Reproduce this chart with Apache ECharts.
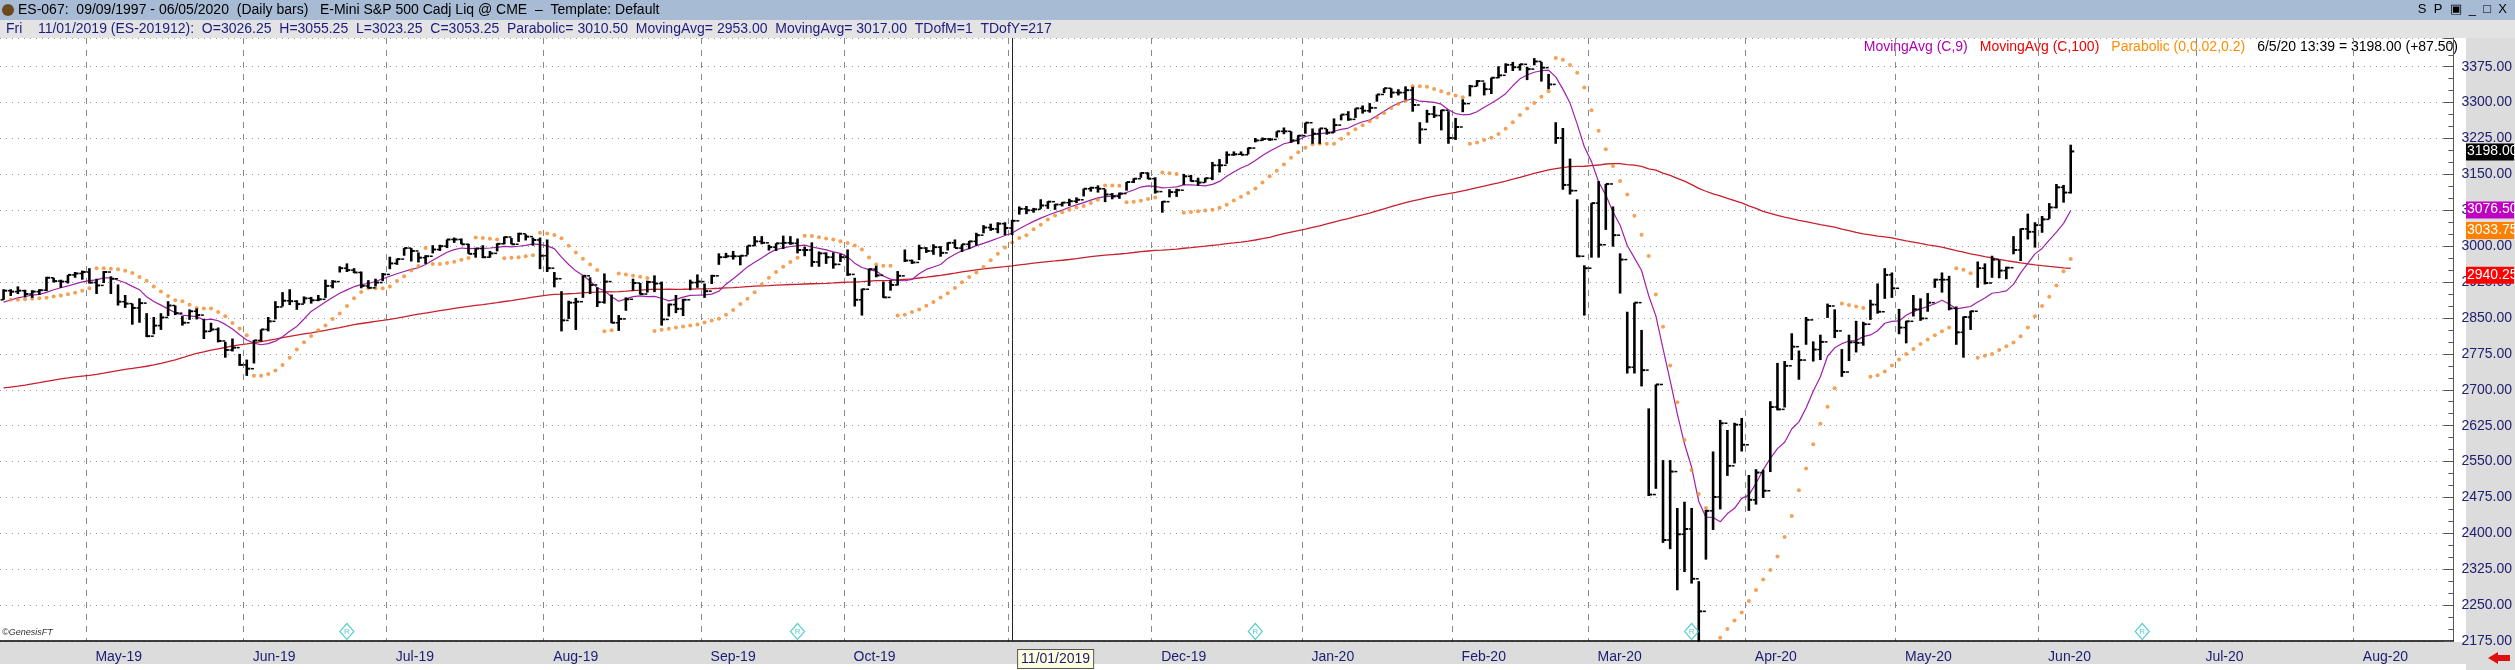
<!DOCTYPE html>
<html><head><meta charset="utf-8">
<script src="https://cdn.jsdelivr.net/npm/echarts@6/dist/echarts.min.js"></script>
<style>html,body{margin:0;padding:0;background:#fff}#c{width:2515px;height:670px}</style>
</head><body><div id="c"></div>
<script>
// warm-up closes (Nov 15 2018 - Apr 11 2019) used only for the 100-day average
const warmupCloses=[2730,2736,2690,2641,2649,2633,2674,2682,2744,2738,2760,
2790,2700,2696,2633,2638,2636,2651,2650,2599,2546,2546,2507,2467,2417,2351,2468,2489,2486,2507,
2510,2448,2532,2550,2574,2585,2597,2596,2583,2610,2616,2636,2671,2633,2639,2643,2665,2644,2640,2682,2704,
2707,2725,2738,2732,2707,2708,2709,2745,2754,2746,2776,2780,2784,2775,2793,2796,2794,2793,2784,
2804,2792,2789,2772,2749,2743,2784,2792,2811,2809,2822,2833,2833,2824,2855,2801,2798,2818,2806,2815,2834,
2867,2867,2873,2880,2893,2896,2878,2888];
const closes=[2907,2905,2907,2900,2905,2908,2934,2927,2926,2940,2943,2946,
2924,2918,2946,2932,2884,2880,2871,2881,2812,2834,2851,2876,2860,2840,2864,2856,2822,2826,2802,2783,2788,2752,
2744,2803,2826,2843,2873,2886,2885,2879,2891,2887,2889,2917,2926,2954,2950,2945,2917,2913,2924,2941,
2964,2973,2996,2990,2976,2979,2993,3000,3014,3014,3004,2984,2995,2977,2985,3005,3019,3004,3026,3020,3013,2980,
2954,2932,2845,2882,2884,2938,2919,2883,2926,2840,2848,2889,2923,2900,2925,2922,2847,2878,2869,2888,2924,2926,
2906,2938,2977,2979,2979,2980,3001,3010,3007,2998,3006,3007,3006,2992,2992,2967,2985,2977,2962,2977,
2941,2888,2910,2952,2939,2893,2919,2938,2970,2966,2996,2990,2998,2986,3007,2996,3004,3010,3023,3039,3036,3047,3038,
3053,3078,3075,3077,3085,3093,3087,3091,3094,3097,3120,3122,3120,3108,3104,3110,3134,3141,3153,3141,
3114,3093,3113,3117,3146,3136,3133,3142,3169,3169,3191,3192,3191,3205,3221,3224,3223,3240,3240,3221,3231,
3258,3235,3246,3237,3253,3275,3265,3288,3283,3289,3317,3330,3321,3321,3326,3295,3244,3276,3273,3284,3226,
3249,3298,3334,3345,3328,3352,3357,3379,3374,3380,3370,3386,3373,3338,3226,3128,3116,2979,2954,
3090,3003,3130,3023,2972,2747,2882,2741,2481,2711,2386,2529,2398,2409,2305,2237,2447,2476,2630,2541,2627,2585,
2470,2527,2489,2664,2659,2750,2790,2762,2846,2784,2800,2875,2823,2737,2799,2798,2837,2878,2863,2940,2912,
2830,2843,2868,2849,2882,2930,2930,2870,2820,2852,2864,2954,2923,2972,2949,2955,2992,3036,3030,3044,
3056,3081,3123,3112,3198];
const highs=[2910,2910,2916,2909,2908,2910,2936,2934,2930,2940,2946,2949,
2954,2932,2948,2937,2920,2898,2880,2891,2860,2852,2860,2885,2876,2854,2868,2870,2848,2840,2830,2800,2807,2775,
2763,2804,2826,2852,2885,2904,2910,2887,2895,2894,2898,2930,2929,2958,2964,2954,2947,2929,2932,2944,
2978,2974,2996,2996,2987,2981,3002,3003,3014,3018,3016,3005,2996,3002,2990,3006,3020,3017,3028,3025,3018,3018,
3014,2946,2906,2886,2892,2939,2935,2914,2943,2899,2856,2893,2932,2923,2928,2939,2926,2880,2898,2890,2930,2941,
2922,2940,2985,2986,2990,2980,3001,3021,3021,3003,3006,3022,3021,3016,2999,3008,2989,2987,2987,2984,
2993,2934,2911,2953,2959,2926,2929,2948,2993,2972,3003,2998,3004,3000,3008,3014,3004,3011,3028,3044,3047,3050,3050,
3055,3083,3084,3080,3098,3094,3088,3092,3099,3102,3120,3124,3127,3119,3111,3112,3134,3142,3154,3154,
3144,3094,3119,3120,3151,3149,3143,3143,3176,3182,3198,3198,3198,3206,3226,3227,3226,3240,3248,3240,3232,
3258,3246,3246,3245,3267,3275,3282,3288,3294,3299,3317,3330,3330,3328,3334,3333,3259,3285,3293,3285,3282,
3268,3307,3337,3347,3342,3352,3376,3382,3385,3381,3375,3393,3385,3360,3259,3247,3183,3098,2960,
3090,3136,3130,3083,2985,2863,2882,2825,2661,2711,2553,2553,2453,2466,2453,2300,2449,2571,2637,2616,2631,2641,
2522,2534,2533,2676,2756,2760,2818,2782,2852,2801,2815,2880,2868,2785,2815,2844,2842,2888,2922,2954,2945,
2869,2844,2898,2891,2902,2932,2945,2938,2874,2853,2865,2968,2964,2980,2971,2957,3021,3037,3068,3050,
3063,3090,3130,3128,3212];
const lows=[2888,2896,2900,2893,2892,2898,2906,2924,2913,2922,2934,2930,
2922,2900,2923,2900,2876,2871,2836,2840,2810,2816,2825,2854,2856,2834,2846,2847,2806,2822,2799,2767,2780,2750,
2729,2755,2801,2822,2847,2874,2877,2867,2880,2880,2885,2892,2912,2945,2946,2944,2912,2912,2916,2927,
2952,2961,2980,2968,2966,2963,2985,2990,2996,3007,3004,2984,2976,2975,2976,2989,3004,3004,3009,3012,3001,2952,
2946,2914,2822,2848,2825,2892,2900,2873,2880,2839,2823,2865,2907,2899,2903,2904,2834,2853,2860,2854,2908,2913,
2892,2921,2961,2975,2972,2960,2982,3000,3004,2991,2990,2994,3003,2985,2979,2957,2957,2963,2953,2967,
2938,2874,2855,2917,2935,2892,2907,2918,2967,2963,2971,2986,2982,2978,2991,2996,2988,2994,3001,3027,3032,3027,3023,
3023,3066,3067,3070,3078,3078,3076,3083,3084,3090,3104,3114,3112,3092,3098,3099,3116,3132,3143,3140,
3110,3070,3102,3103,3128,3135,3126,3133,3138,3154,3172,3189,3191,3192,3217,3220,3220,3227,3234,3216,3213,
3235,3214,3214,3233,3237,3263,3262,3268,3277,3279,3302,3320,3310,3315,3306,3281,3214,3258,3268,3242,3214,
3222,3280,3313,3334,3315,3318,3351,3362,3366,3367,3347,3378,3344,3328,3214,3118,3108,2977,2855,
2976,2976,3034,2999,2901,2734,2734,2707,2478,2493,2380,2367,2281,2319,2295,2174,2345,2407,2450,2520,2546,2571,
2447,2460,2474,2528,2657,2663,2762,2721,2794,2759,2762,2850,2808,2727,2760,2778,2792,2846,2859,2890,2892,
2816,2797,2853,2844,2863,2913,2903,2866,2794,2767,2825,2913,2920,2934,2933,2931,2983,2969,3014,2997,
3028,3057,3079,3091,3110];
const holidays=['2019-04-19','2019-05-27','2019-07-04','2019-09-02','2019-11-28','2019-12-25','2020-01-01','2020-01-20','2020-02-17','2020-04-10','2020-05-25','2020-07-03'];
const expiryDates=['2019-06-21','2019-09-20','2019-12-20','2020-03-20','2020-06-19'];
const yTicks={min:2175,max:3435,step:75};
const tagValues=[['3198.00','#000000',3198],['3076.50','#c000c0',3076.5],['3033.75','#ff8000',3033.75],['2940.25','#ff0000',2940.25]];
const legendItems=[['MovingAvg (C,9)','#b000b0'],['MovingAvg (C,100)','#ee0000'],['Parabolic (0,0.02,0.2)','#ff8c00'],['6/5/20 13:39 = 3198.00 (+87.50)','#000000']];
const cursorDate='2019-11-01';

const dates=[];
{let d=new Date(Date.UTC(2019,3,12));const end=new Date(Date.UTC(2020,7,20));
 while(d<=end){const w=d.getUTCDay();const s=d.toISOString().slice(0,10);
  if(w>0&&w<6&&!holidays.includes(s))dates.push(s);d=new Date(d.getTime()+864e5);}}
const N=closes.length;
const allC=warmupCloses.concat(closes);
const W=warmupCloses.length;
const opens=closes.map((c,i)=>i===0?warmupCloses[W-1]:closes[i-1]);
function sma(p){return closes.map((c,i)=>{const j=i+W;if(j+1<p)return null;let s=0;for(let k=j-p+1;k<=j;k++)s+=allC[k];return +(s/p).toFixed(2);});}
const ma9=sma(9),ma100=sma(100);
const sar=[];{let up=true,af=0.02,ep=highs[0],s=lows[0];sar.push(null);
 for(let i=1;i<N;i++){s=s+af*(ep-s);
  if(up){s=Math.min(s,lows[i-1],i>1?lows[i-2]:lows[i-1]);
   if(lows[i]<s){up=false;s=ep;ep=lows[i];af=0.02;}else if(highs[i]>ep){ep=highs[i];af=Math.min(af+0.02,0.2);}}
  else{s=Math.max(s,highs[i-1],i>1?highs[i-2]:highs[i-1]);
   if(highs[i]>s){up=true;s=ep;ep=highs[i];af=0.02;}else if(lows[i]<ep){ep=lows[i];af=Math.min(af+0.02,0.2);}}
  sar.push(+s.toFixed(2));}}
const ohlc=closes.map((c,i)=>[i,opens[i],highs[i],lows[i],c]);
const mon=['Jan','Feb','Mar','Apr','May','Jun','Jul','Aug','Sep','Oct','Nov','Dec'];
const firstOfMonth=new Set();dates.forEach((d,i)=>{if(i>0&&d.slice(5,7)!==dates[i-1].slice(5,7))firstOfMonth.add(i);});
const FF="'Liberation Sans Narrow','Liberation Sans',Arial,sans-serif";
const chart=echarts.init(document.getElementById('c'));
chart.setOption({
 animation:false,backgroundColor:'#ffffff',
 grid:{left:0,right:50,top:38,bottom:29},
 xAxis:{type:'category',data:dates,boundaryGap:true,
  axisLine:{lineStyle:{color:'#000',width:1.5}},
  axisTick:{show:false},
  axisLabel:{interval:(i)=>firstOfMonth.has(i),margin:9,align:'left',padding:[0,0,0,6],color:'#1c1c70',fontSize:14,fontFamily:FF,
   formatter:(v)=>v===cursorDate?'{cur|11/01/2019}':mon[+v.slice(5,7)-1]+'-'+v.slice(2,4),
   rich:{cur:{backgroundColor:'#ffffe0',borderColor:'#555',borderWidth:1,padding:[2,3],color:'#1c1c70',fontSize:14,fontFamily:FF}}},
  splitLine:{show:true,interval:(i)=>firstOfMonth.has(i),lineStyle:{color:'#888',type:[6,6],width:1}}},
 yAxis:{type:'value',position:'right',min:yTicks.min,max:yTicks.max,interval:yTicks.step,
  axisLine:{show:true,lineStyle:{color:'#555'}},
  axisTick:{show:true,inside:true,length:10,lineStyle:{color:'#555'}},
  minorTick:{show:true,splitNumber:3,length:5,lineStyle:{color:'#555'}},
  axisLabel:{margin:8,color:'#202070',fontSize:14,fontFamily:'Liberation Sans,Arial',formatter:(v)=>v>3400?'':v.toFixed(2)},
  splitLine:{show:true,lineStyle:{color:'#999',type:[1,5]}}},
 series:[
  {type:'line',data:ma100,showSymbol:false,lineStyle:{color:'#c8202c',width:1.3},z:2},
  {type:'line',data:ma9,showSymbol:false,lineStyle:{color:'#a020a8',width:1.2},z:3},
  {type:'scatter',data:sar,symbol:'circle',symbolSize:4,itemStyle:{color:'#f08a2a'},z:4},
  {type:'custom',data:ohlc,z:5,encode:{x:0,y:[1,2,3,4]},
   renderItem:(p,api)=>{const x=api.value(0);const o=api.coord([x,api.value(1)]),h=api.coord([x,api.value(2)]),l=api.coord([x,api.value(3)]),c=api.coord([x,api.value(4)]);
    return {type:'group',children:[
     {type:'line',shape:{x1:h[0],y1:h[1],x2:l[0],y2:l[1]},style:{stroke:'#000',lineWidth:2.6}},
     {type:'line',shape:{x1:o[0]-3,y1:o[1],x2:h[0],y2:o[1]},style:{stroke:'#000',lineWidth:1.5}},
     {type:'line',shape:{x1:c[0],y1:c[1],x2:c[0]+3.5,y2:c[1]},style:{stroke:'#000',lineWidth:2}}]};}},
  {type:'scatter',data:expiryDates.map(d=>[d,2195]),symbol:'diamond',symbolSize:[14,16],
   itemStyle:{color:'rgba(0,0,0,0)',borderColor:'#30c0c0',borderWidth:1.2},
   label:{show:true,formatter:'R',position:'inside',color:'#30c0c0',fontSize:8},z:6,
   markLine:{silent:true,symbol:'none',label:{show:false},lineStyle:{color:'#222',width:1,type:'solid'},data:[{xAxis:cursorDate}]}}
 ],
 graphic:[
  {type:'rect',shape:{x:0,y:0,width:2515,height:20},style:{fill:'#a7bbd5'}},
  {type:'rect',shape:{x:0,y:20,width:2515,height:18},style:{fill:'#e3e3e3'}},
  {type:'rect',shape:{x:2466,y:38,width:49,height:632},style:{fill:'#dcdcdc'},z:-1},
  {type:'rect',shape:{x:0,y:642,width:2466,height:22},style:{fill:'#dcdcdc'},z:-1},
  {type:'circle',shape:{cx:8,cy:10,r:6},style:{fill:'#6b4a1e'}},
  {type:'text',left:18,top:3,style:{text:'ES-067:  09/09/1997 - 06/05/2020  (Daily bars)   E-Mini S&P 500 Cadj Liq @ CME  \u2013  Template: Default',fill:'#000',font:'14px '+FF}},
  {type:'text',left:6,top:22,style:{text:'Fri    11/01/2019 (ES-201912):  O=3026.25  H=3055.25  L=3023.25  C=3053.25  Parabolic= 3010.50  MovingAvg= 2953.00  MovingAvg= 3017.00  TDofM=1  TDofY=217',fill:'#1c1c80',font:'14px '+FF}},
  {type:'text',left:2,top:628,style:{text:'©GenesisFT',fill:'#333',font:'italic 9px '+FF}},
  {type:'text',right:8,top:3,style:{text:'S  P  \u25a3  _  \u25a1  X',fill:'#000',font:'13px '+FF}},
  {type:'polygon',shape:{points:[[2488,658],[2498,652],[2498,655],[2510,655],[2510,661],[2498,661],[2498,664]]},style:{fill:'#e01010'}}
 ]
});
const ctx=document.createElement('canvas').getContext('2d');
const LF='14px '+FF;ctx.font=LF;
const g=[];let x=2458;
for(let i=legendItems.length-1;i>=0;i--){const [t,c]=legendItems[i];
 g.push({type:'text',x:x,y:40,style:{text:t,fill:c,font:LF,align:'right'}});
 x-=ctx.measureText(t).width+12;}
tagValues.forEach(([t,c,v])=>{const y=chart.convertToPixel({yAxisIndex:0},v);
 g.push({type:'rect',shape:{x:2466,y:y-8,width:48,height:17},style:{fill:c},z:50});
 g.push({type:'text',x:2467,y:y-7,style:{text:t,fill:'#fff',font:'14px Liberation Sans,Arial'},z:51});});
chart.setOption({graphic:chart.getOption().graphic[0].elements.concat(g)});
</script></body></html>
